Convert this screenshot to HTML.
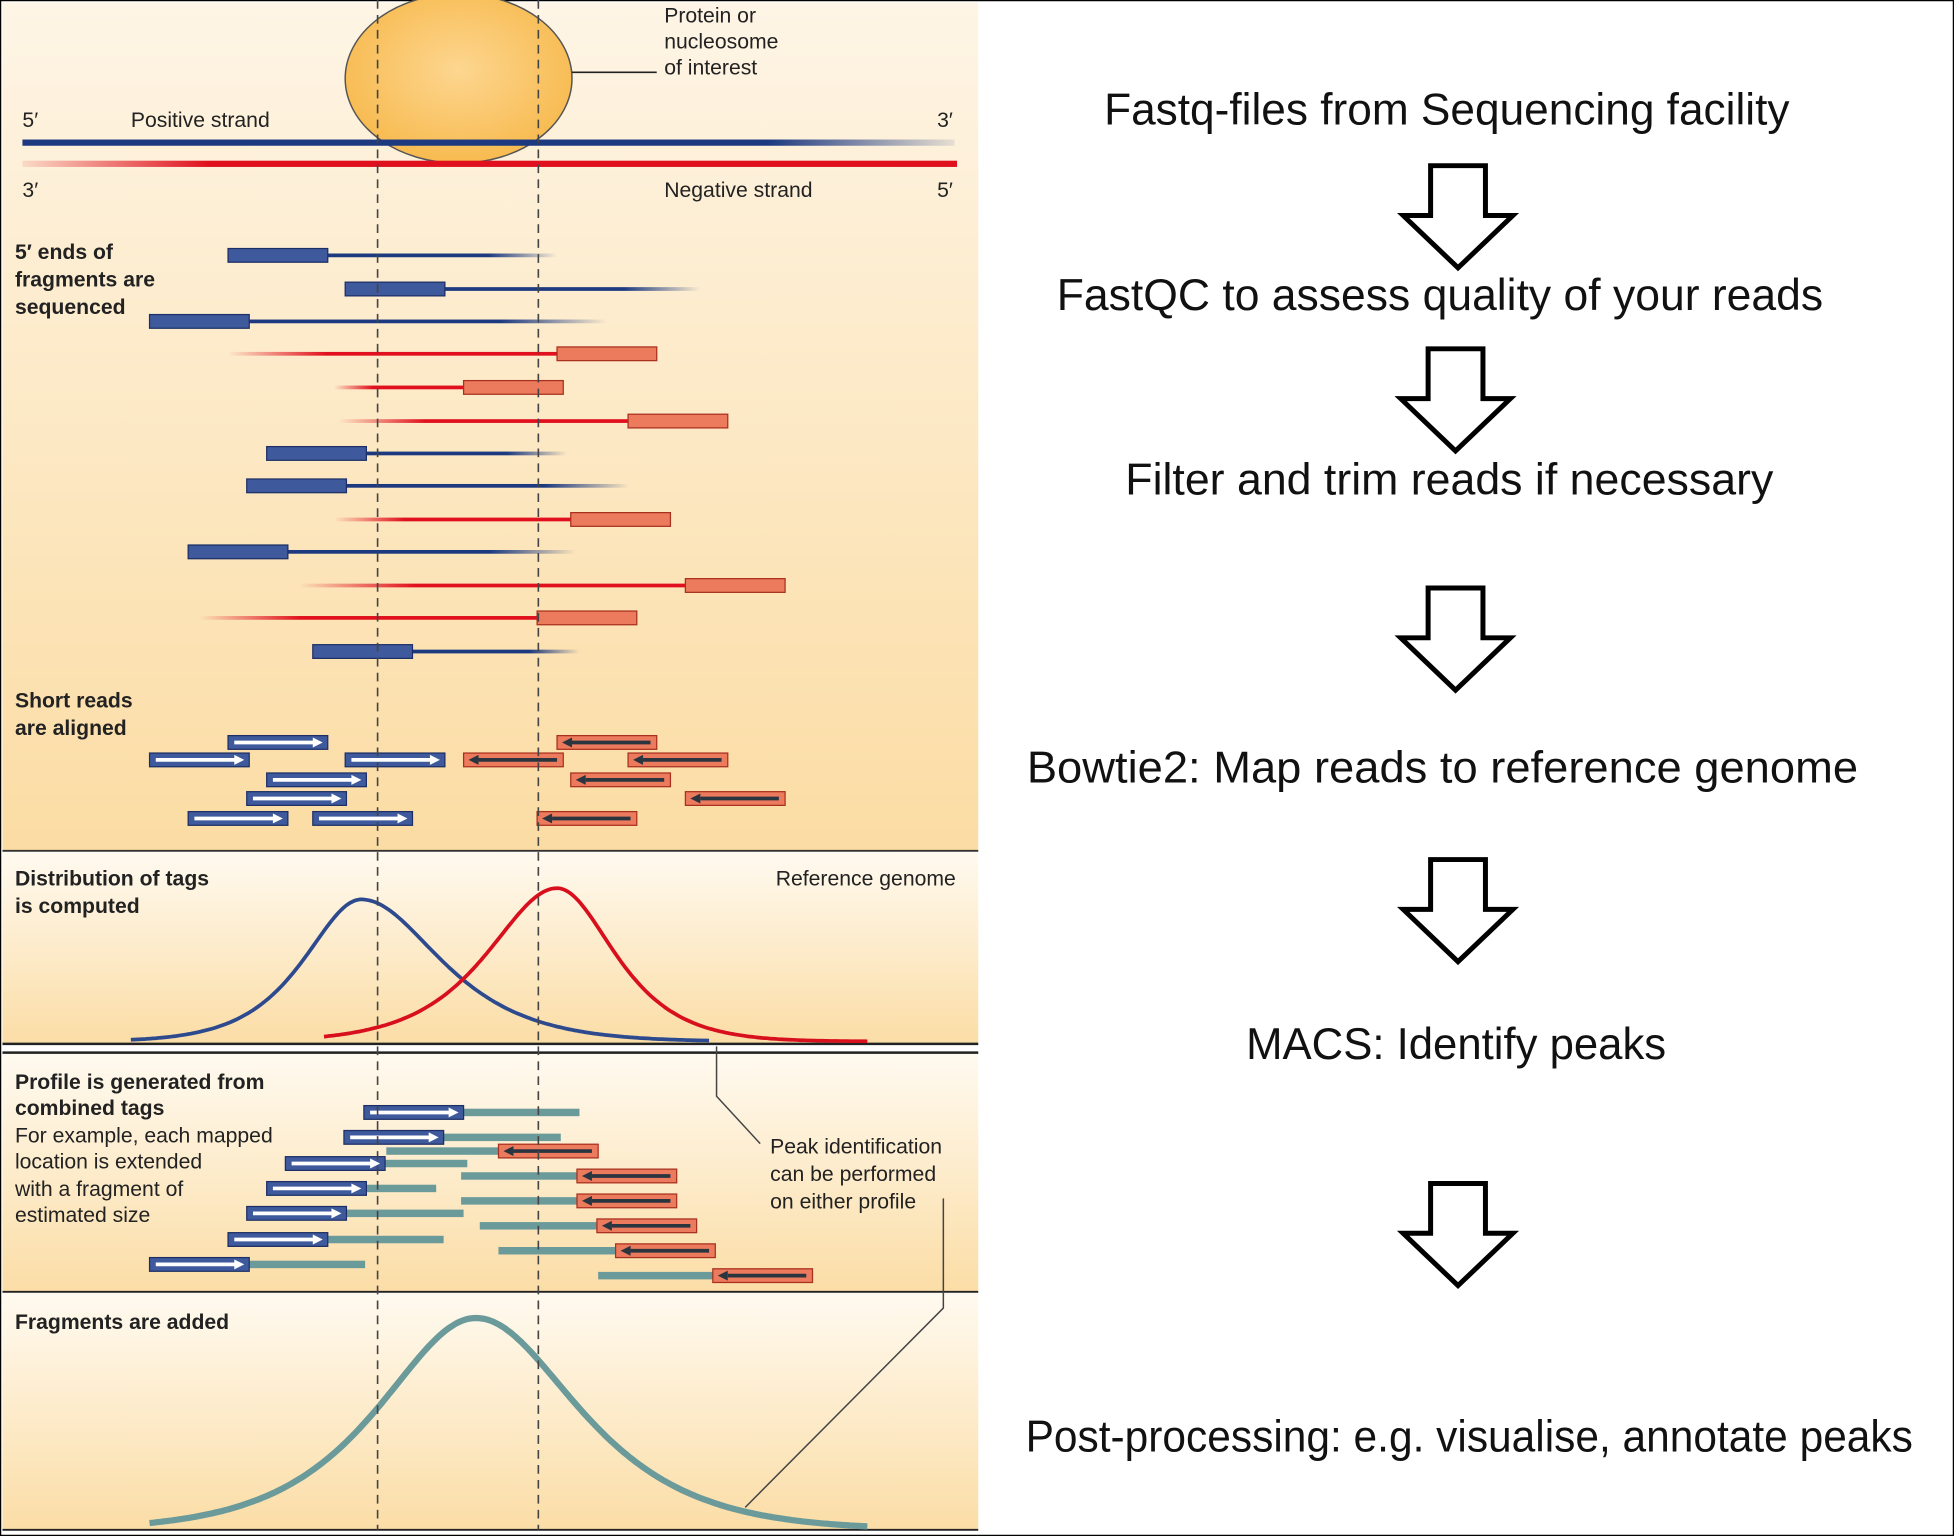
<!DOCTYPE html>
<html><head><meta charset="utf-8"><style>
html,body{margin:0;padding:0;background:#fff}
svg{display:block}
text{font-family:"Liberation Sans",sans-serif}
</style></head><body>
<svg id="fig" width="1954" height="1536" viewBox="0 0 1568 1233" preserveAspectRatio="none" xmlns="http://www.w3.org/2000/svg">
<defs>
<linearGradient id="bgA" x1="0" y1="0" x2="0" y2="1"><stop offset="0" stop-color="#fef5e6"/><stop offset="1" stop-color="#fbdca3"/></linearGradient>
<linearGradient id="bgB" x1="0" y1="0" x2="0" y2="1"><stop offset="0" stop-color="#fffaf0"/><stop offset="1" stop-color="#fbdda6"/></linearGradient>
<radialGradient id="ell" cx="0.5" cy="0.45" r="0.6"><stop offset="0" stop-color="#fdd690"/><stop offset="1" stop-color="#f7b84a"/></radialGradient>
<linearGradient id="blueFade" x1="0" x2="1"><stop offset="0" stop-color="#1d3a80"/><stop offset="0.7" stop-color="#1d3a80"/><stop offset="1" stop-color="#1d3a80" stop-opacity="0"/></linearGradient>
<linearGradient id="redFade" x1="1" x2="0"><stop offset="0" stop-color="#e0101e"/><stop offset="0.7" stop-color="#e0101e"/><stop offset="1" stop-color="#e0101e" stop-opacity="0"/></linearGradient>
<linearGradient id="blueStrand" x1="0" x2="1"><stop offset="0" stop-color="#1d3a80"/><stop offset="0.8" stop-color="#1d3a80"/><stop offset="1" stop-color="#1d3a80" stop-opacity="0.1"/></linearGradient>
<linearGradient id="redStrand" x1="1" x2="0"><stop offset="0" stop-color="#e0101e"/><stop offset="0.8" stop-color="#e0101e"/><stop offset="1" stop-color="#e0101e" stop-opacity="0.1"/></linearGradient>
</defs>
<rect x="0.5" y="0.5" width="1567" height="1232" fill="#fff" stroke="#000" stroke-width="1"/>
<rect x="2" y="2" width="783" height="681" fill="url(#bgA)"/>
<rect x="2" y="683" width="783" height="154" fill="url(#bgB)"/>
<rect x="2" y="845" width="783" height="192" fill="url(#bgB)"/>
<rect x="2" y="1037" width="783" height="191" fill="url(#bgB)"/>
<line x1="2" y1="683" x2="785" y2="683" stroke="#333" stroke-width="1.5"/>
<line x1="2" y1="838" x2="785" y2="838" stroke="#222" stroke-width="2"/>
<line x1="2" y1="845" x2="785" y2="845" stroke="#222" stroke-width="2"/>
<line x1="2" y1="1037" x2="785" y2="1037" stroke="#222" stroke-width="1.5"/>
<line x1="2" y1="1228" x2="785" y2="1228" stroke="#222" stroke-width="1.5"/>

<ellipse cx="368" cy="63" rx="91" ry="68" fill="url(#ell)" stroke="#555" stroke-width="1.2"/>
<line x1="459" y1="58" x2="527" y2="58" stroke="#222" stroke-width="1.3"/>
<text font-size="17" fill="#222"><tspan x="533" y="18">Protein or</tspan><tspan x="533" y="39">nucleosome</tspan><tspan x="533" y="60">of interest</tspan></text>
<rect x="18" y="112" width="748" height="5" fill="url(#blueStrand)"/>
<rect x="18" y="129" width="750" height="5" fill="url(#redStrand)"/>
<text font-size="17" fill="#222" x="18" y="102">5′</text>
<text font-size="17" fill="#222" x="105" y="102">Positive strand</text>
<text font-size="17" fill="#222" x="752" y="102">3′</text>
<text font-size="17" fill="#222" x="18" y="158">3′</text>
<text font-size="17" fill="#222" x="533" y="158">Negative strand</text>
<text font-size="17" fill="#222" x="752" y="158">5′</text>

<text font-size="17" font-weight="bold" fill="#222"><tspan x="12" y="208">5′ ends of</tspan><tspan x="12" y="230">fragments are</tspan><tspan x="12" y="252">sequenced</tspan></text>
<text font-size="17" font-weight="bold" fill="#222"><tspan x="12" y="568">Short reads</tspan><tspan x="12" y="590">are aligned</tspan></text>
<text font-size="17" font-weight="bold" fill="#222"><tspan x="12" y="711">Distribution of tags</tspan><tspan x="12" y="733">is computed</tspan></text>
<text font-size="17" fill="#222" x="767" y="711" text-anchor="end">Reference genome</text>
<text font-size="17" fill="#222"><tspan x="12" y="874" font-weight="bold">Profile is generated from</tspan><tspan x="12" y="895" font-weight="bold">combined tags</tspan><tspan x="12" y="917">For example, each mapped</tspan><tspan x="12" y="938">location is extended</tspan><tspan x="12" y="960">with a fragment of</tspan><tspan x="12" y="981">estimated size</tspan></text>
<text font-size="17" fill="#222"><tspan x="618" y="926">Peak identification</tspan><tspan x="618" y="948">can be performed</tspan><tspan x="618" y="970">on either profile</tspan></text>
<text font-size="17" font-weight="bold" fill="#222" x="12" y="1067">Fragments are added</text>
<polyline points="575,840 575,880 610,918" fill="none" stroke="#444" stroke-width="1.2"/>
<polyline points="757,962 757,1050 598,1210" fill="none" stroke="#444" stroke-width="1.2"/>

<g id="marks"></g>
<line x1="303" y1="0" x2="303" y2="1228" stroke="#444" stroke-width="1.3" stroke-dasharray="7,5"/>
<line x1="432" y1="0" x2="432" y2="1228" stroke="#444" stroke-width="1.3" stroke-dasharray="7,5"/>

<g font-size="36" fill="#111">
<text x="886" y="100" textLength="550" lengthAdjust="spacingAndGlyphs">Fastq-files from Sequencing facility</text>
<text x="848" y="249" textLength="615" lengthAdjust="spacingAndGlyphs">FastQC to assess quality of your reads</text>
<text x="903" y="397" textLength="520" lengthAdjust="spacingAndGlyphs">Filter and trim reads if necessary</text>
<text x="824" y="628" textLength="667" lengthAdjust="spacingAndGlyphs">Bowtie2: Map reads to reference genome</text>
<text x="1000" y="850" textLength="337" lengthAdjust="spacingAndGlyphs">MACS: Identify peaks</text>
<text x="823" y="1165" textLength="712" lengthAdjust="spacingAndGlyphs">Post-processing: e.g. visualise, annotate peaks</text>
</g>
<g id="arrows"></g>
</svg>
<script>
const NS="http://www.w3.org/2000/svg";
const marks=document.getElementById('marks');
function el(tag,attrs,parent){const e=document.createElementNS(NS,tag);for(const k in attrs)e.setAttribute(k,attrs[k]);(parent||marks).appendChild(e);return e;}
// fragments: [rectStart, y, fadeEnd]
const blueFrags=[[183,205,447],[277,232,562],[120,258,487],[214,364,455],[198,390,505],[151,443,462],[251,523,465]];
// red: [fadeStart, y, rectStart]
const redFrags=[[183,284,447],[268,311,372],[272,338,504],[268,417,458],[240,470,550],[160,496,431]];
blueFrags.forEach(f=>{
  const l=el('rect',{x:f[0]+80,y:f[1]-1.5,width:f[2]-f[0]-80,height:3,fill:'url(#blueFade)'});
  
  
  const r=el('rect',{x:f[0],y:f[1]-5.5,width:80,height:11,fill:'#3e5a9c',stroke:'#1d2f66','stroke-width':1});
  
  
});
redFrags.forEach(f=>{
  const l=el('rect',{x:f[0],y:f[1]-1.5,width:f[2]-f[0],height:3,fill:'url(#redFade)'});
  
  
  const r=el('rect',{x:f[2],y:f[1]-5.5,width:80,height:11,fill:'#ec7a5c',stroke:'#a8301e','stroke-width':1});
  
  
});
function read(x,y,pos,ext){
  if(ext!=null){
    const l=el('rect',pos?{x:x+80,y:y-3,width:ext-x-80,height:6,fill:'#6b9a9a'}:{x:ext,y:y-3,width:x-ext,height:6,fill:'#6b9a9a'});
    
    
  }
  const r=el('rect',{x:x,y:y-5.5,width:80,height:11,fill:pos?'#3e5a9c':'#ec7a5c',stroke:pos?'#1d2f66':'#a8301e','stroke-width':1});
  
  
  if(pos){
    el('line',{x1:x+5,y1:y,x2:x+70,y2:y,stroke:'#fff','stroke-width':3});
    el('path',{d:`M${x+68},${y-4} L${x+76},${y} L${x+68},${y+4}Z`,fill:'#fff'});
  }else{
    el('line',{x1:x+12,y1:y,x2:x+75,y2:y,stroke:'#2a3540','stroke-width':3});
    el('path',{d:`M${x+12},${y-4} L${x+4},${y} L${x+12},${y+4}Z`,fill:'#2a3540'});
  }
}
const shortPos=[[183,596],[120,610],[277,610],[214,626],[198,641],[151,657],[251,657]];
const shortNeg=[[447,596],[372,610],[504,610],[458,626],[550,641],[431,657]];
shortPos.forEach(p=>read(p[0],p[1],true));
shortNeg.forEach(p=>read(p[0],p[1],false));
const extPos=[[292,893,465],[276,913,450],[229,934,375],[214,954,350],[198,974,372],[183,995,356],[120,1015,293]];
const extNeg=[[400,924,310],[463,944,370],[463,964,370],[479,984,385],[494,1004,400],[572,1024,480]];
extPos.forEach(p=>read(p[0],p[1],true,p[2]));
extNeg.forEach(p=>read(p[0],p[1],false,p[2]));
// curves: [center, peakY, baseY, left, right, sigmaL, sigmaR, color, name]
const curves=[[290,722,836,105,570,62,85,'#2d4a8e','tag-distribution-positive'],
              [447,713,836,260,697,75,62,'#d8101e','tag-distribution-negative'],
              [382,1058,1228,120,697,105,110,'#6b9a9a','combined-profile']];
curves.forEach(c=>{
  let d='';
  for(let x=c[3];x<=c[4];x+=2){
    const s=x<c[0]?c[5]:c[6];
    const t=(x-c[0])/s;
    const v=1/(1+t*t*0.9)*Math.exp(-t*t*0.25);
    const y=c[2]-(c[2]-c[1])*v;
    d+=(d?'L':'M')+x+','+y.toFixed(1);
  }
  const p=el('path',{d:d,fill:'none',stroke:c[7],'stroke-width':c[8]==='combined-profile'?5:3});
  
  
});
// down arrows: [centerX, topY]
const arrowPos=[[1170,133],[1168,280],[1168,472],[1170,690],[1170,950]];
const ag=document.getElementById('arrows');
arrowPos.forEach(a=>{
  const x=a[0],y=a[1];
  const p=el('path',{d:`M${x-22},${y} H${x+22} V${y+40} H${x+44} L${x},${y+82} L${x-44},${y+40} H${x-22}Z`,fill:'#fff',stroke:'#000','stroke-width':4,'stroke-linejoin':'miter'},ag);
  
  
});
</script>
</body></html>
